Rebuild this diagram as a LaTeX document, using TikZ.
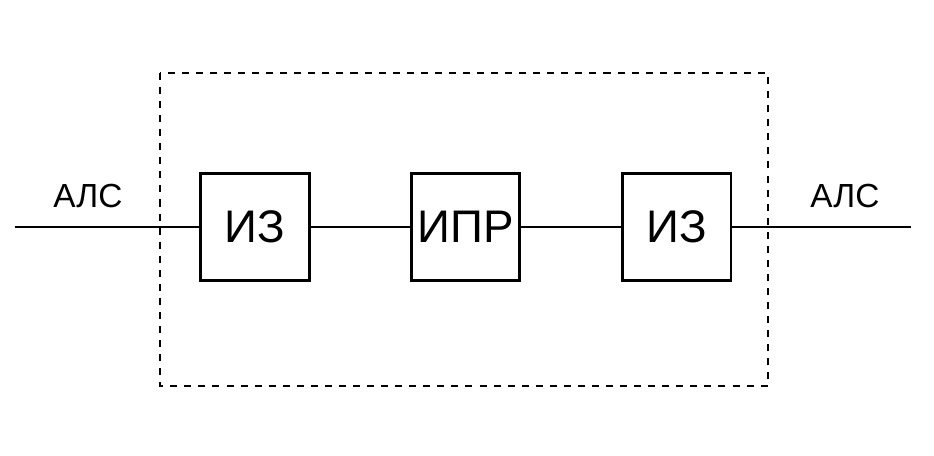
\documentclass[tikz,border=0pt]{standalone}
\usepackage{fontspec}
\setmainfont{Liberation Sans}
\usetikzlibrary{positioning}
\begin{document}
\begin{tikzpicture}[
    x=0.02cm, y=-0.02cm,
    block/.style={rectangle, draw, line width=1.7pt, minimum width=2.18cm, minimum height=2.14cm, inner sep=0pt, font=\fontsize{26}{30}\selectfont},
    wire/.style={line width=1.7pt},
    lbl/.style={font=\fontsize{19}{22}\selectfont}
  ]
    \useasboundingbox (0,0) rectangle (934,456);
    % Frame
    \draw[line width=1.2pt, dash pattern=on 4pt off 4pt] (160,73) rectangle (768,386);
    % Blocks
    \node[block] (iz1) at (255,227) {ИЗ};
    \node[block] (ipr) at (465.5,227) {ИПР};
    \node[block] (iz2) at (676.5,227) {ИЗ};
    \coordinate (in) at (15,227);
    \coordinate (out) at (911,227);
    % Wires
    \draw[wire] (in) -- (iz1) -- (ipr) -- (iz2) -- (out);
    \node[lbl] (alsin) at (88,196) {АЛС};
    \node[lbl] (alsout) at (845,196) {АЛС};
  \end{tikzpicture}
\end{document}
